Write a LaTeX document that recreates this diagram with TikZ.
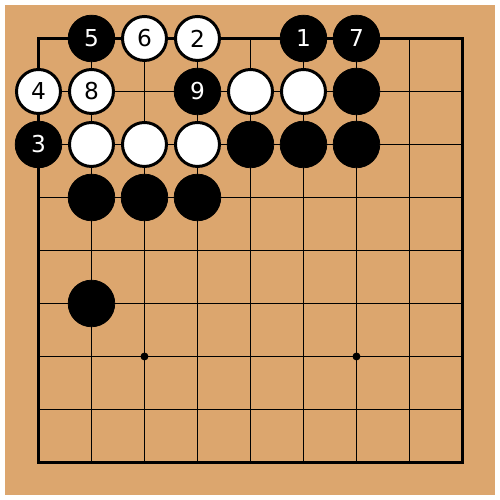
\documentclass[tikz,border=0pt]{standalone}
\usepackage{fontspec}
\setmainfont{DejaVu Sans}
\definecolor{boardtan}{RGB}{220,166,110}

\begin{document}
\begin{tikzpicture}[scale=1,inner sep=0mm,
  bstone/.style={circle,fill=black,draw=black,text=white,minimum size=8.8mm,font=\fontsize{12.5}{14}\selectfont},
  wstone/.style={circle,fill=white,draw=black,line width=1.6pt,minimum size=8.3mm,font=\fontsize{12.5}{14}\selectfont},
  hoshi/.style={circle,fill=black,minimum size=1.5mm}]
\useasboundingbox (-0.726,0.726) rectangle (8.708,-8.708);
\fill[boardtan] (-0.632,0.632) rectangle (8.613,-8.613);
\draw[step=1,line width=0.55pt] (0,-8) grid (8,0);
\draw[line width=1.1pt] (0,0) rectangle (8,-8);
\node[hoshi] (h1) at (2,-6) {};
\node[hoshi] (h2) at (6,-6) {};

% numbered moves
\node[bstone] (m1) at (5,0) {1};
\node[wstone] (m2) at (3,0) {2};
\node[bstone] (m3) at (0,-2) {3};
\node[wstone] (m4) at (0,-1) {4};
\node[bstone] (m5) at (1,0) {5};
\node[wstone] (m6) at (2,0) {6};
\node[bstone] (m7) at (6,0) {7};
\node[wstone] (m8) at (1,-1) {8};
\node[bstone] (m9) at (3,-1) {9};

% stones already on the board
\node[wstone] (w1) at (4,-1) {};
\node[wstone] (w2) at (5,-1) {};
\node[wstone] (w3) at (1,-2) {};
\node[wstone] (w4) at (2,-2) {};
\node[wstone] (w5) at (3,-2) {};
\node[bstone] (b1) at (6,-1) {};
\node[bstone] (b2) at (4,-2) {};
\node[bstone] (b3) at (5,-2) {};
\node[bstone] (b4) at (6,-2) {};
\node[bstone] (b5) at (1,-3) {};
\node[bstone] (b6) at (2,-3) {};
\node[bstone] (b7) at (3,-3) {};
\node[bstone] (b8) at (1,-5) {};

\end{tikzpicture}
\end{document}
